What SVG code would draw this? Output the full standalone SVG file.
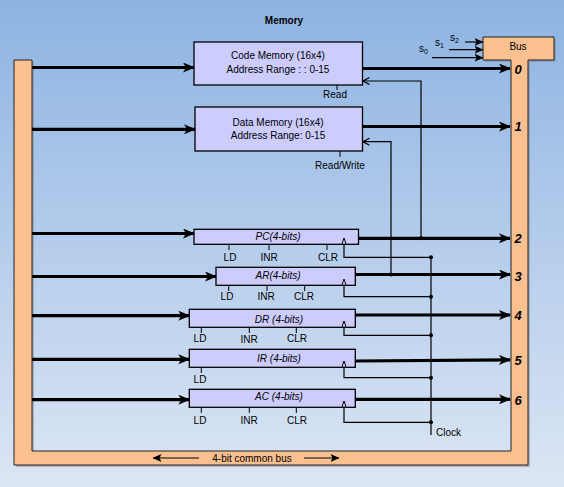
<svg xmlns="http://www.w3.org/2000/svg" width="564" height="487" viewBox="0 0 564 487">
<defs>
<linearGradient id="bg" x1="0" y1="0" x2="0" y2="1">
<stop offset="0" stop-color="#8db3e2"/>
<stop offset="1" stop-color="#dce6f4"/>
</linearGradient>
<marker id="ah" markerUnits="userSpaceOnUse" markerWidth="12" markerHeight="10" refX="11" refY="5" orient="auto">
<path d="M0,0 L12,5 L0,10 L3,5 z" fill="#000"/>
</marker>
<marker id="as" markerUnits="userSpaceOnUse" markerWidth="9" markerHeight="8" refX="8.5" refY="4" orient="auto">
<path d="M0,0 L9,4 L0,8 L2,4 z" fill="#000"/>
</marker>
<marker id="ao" markerUnits="userSpaceOnUse" markerWidth="8" markerHeight="8" refX="7.5" refY="4" orient="auto">
<path d="M1,0.5 L7.5,4 L1,7.5" fill="none" stroke="#000" stroke-width="1.2"/>
</marker>
</defs>
<style>
.box{fill:#ccccff;stroke:#000;stroke-width:1.3}
.t{font-family:"Liberation Sans",Arial,sans-serif;font-size:10px;fill:#000}
.ti{font-family:"Liberation Sans",Arial,sans-serif;font-size:10px;font-style:italic;fill:#000}
.num{font-family:"Liberation Sans",Arial,sans-serif;font-size:13px;font-weight:bold;font-style:italic;fill:#000}
.thick{stroke:#000;stroke-width:3.2;fill:none}
.thin{stroke:#000;stroke-width:1.2;fill:none}
.tick{stroke:#000;stroke-width:1}
.clk{fill:none;stroke:#000;stroke-width:1}
</style>
<rect x="0" y="0" width="564" height="487" fill="url(#bg)"/>

<g id="bus">
<path d="M16,62 L34,62 L34,453 L513,453 L513,62 L485,62 L485,39 L556,39 L556,62 L530,62 L530,467 L16,467 Z" fill="#7f7f7f" opacity="0.45"/>
<path d="M14,60 L32,60 L32,451 L511,451 L511,60 L483,60 L483,37 L554,37 L554,60 L528,60 L528,465 L14,465 Z" fill="#fac090" stroke="#222" stroke-width="1"/>
<text class="t" x="518" y="50" text-anchor="middle" font-size="12">Bus</text>
<text class="num" x="518" y="74" text-anchor="middle">0</text>
<text class="num" x="518" y="131" text-anchor="middle">1</text>
<text class="num" x="518" y="243" text-anchor="middle">2</text>
<text class="num" x="518" y="281" text-anchor="middle">3</text>
<text class="num" x="518" y="320" text-anchor="middle">4</text>
<text class="num" x="518" y="365" text-anchor="middle">5</text>
<text class="num" x="518" y="405" text-anchor="middle">6</text>
<text class="t" x="252" y="462" text-anchor="middle" font-size="12">4-bit common bus</text>
</g>

<text class="t" x="284" y="24" text-anchor="middle" font-weight="bold" font-size="12">Memory</text>

<g id="code-memory">
<rect class="box" x="194" y="42" width="168.5" height="43"/>
<text class="t" x="278" y="59" text-anchor="middle">Code Memory (16x4)</text>
<text class="t" x="278" y="73" text-anchor="middle">Address Range : : 0-15</text>
<line class="tick" x1="337" y1="85" x2="337" y2="90"/>
<text class="t" x="335" y="98" text-anchor="middle">Read</text>
</g>

<g id="data-memory">
<rect class="box" x="195" y="107" width="167.5" height="44"/>
<text class="t" x="278" y="126" text-anchor="middle">Data Memory (16x4)</text>
<text class="t" x="278" y="139" text-anchor="middle">Address Range: 0-15</text>
<line class="tick" x1="340" y1="151" x2="340" y2="157"/>
<text class="t" x="340" y="169" text-anchor="middle">Read/Write</text>
</g>

<g id="pc">
<rect class="box" x="194" y="229.3" width="164.5" height="15"/>
<text class="ti" x="278" y="240" text-anchor="middle" font-size="9">PC(4-bits)</text>
<path class="clk" d="M342,243.8 L344,238 L346,243.8"/>
<line class="tick" x1="229" y1="245" x2="229" y2="250"/>
<line class="tick" x1="269" y1="245" x2="269" y2="250"/>
<line class="tick" x1="327" y1="245" x2="327" y2="250"/>
<text class="t" x="230" y="261" text-anchor="middle" font-size="9.5">LD</text>
<text class="t" x="269" y="261" text-anchor="middle" font-size="9.5">INR</text>
<text class="t" x="328" y="261" text-anchor="middle" font-size="9.5">CLR</text>
</g>

<g id="ar">
<rect class="box" x="216" y="267.3" width="139.3" height="18"/>
<text class="ti" x="278" y="279" text-anchor="middle" font-size="9">AR(4-bits)</text>
<path class="clk" d="M342,284.8 L344,279 L346,284.8"/>
<line class="tick" x1="228.7" y1="286" x2="228.7" y2="291"/>
<line class="tick" x1="267" y1="286" x2="267" y2="291"/>
<line class="tick" x1="304.7" y1="286" x2="304.7" y2="291"/>
<text class="t" x="227" y="300" text-anchor="middle" font-size="9.5">LD</text>
<text class="t" x="266" y="300" text-anchor="middle" font-size="9.5">INR</text>
<text class="t" x="304" y="300" text-anchor="middle" font-size="9.5">CLR</text>
</g>

<g id="dr">
<rect class="box" x="189.3" y="309.3" width="166" height="18"/>
<text class="ti" x="279" y="323" text-anchor="middle" font-size="9">DR (4-bits)</text>
<path class="clk" d="M342,326.8 L344,321 L346,326.8"/>
<line class="tick" x1="201.3" y1="328" x2="201.3" y2="333"/>
<line class="tick" x1="249.3" y1="328" x2="249.3" y2="333"/>
<line class="tick" x1="296.3" y1="328" x2="296.3" y2="333"/>
<text class="t" x="200" y="342" text-anchor="middle" font-size="9.5">LD</text>
<text class="t" x="249" y="343" text-anchor="middle" font-size="9.5">INR</text>
<text class="t" x="297" y="342" text-anchor="middle" font-size="9.5">CLR</text>
</g>

<g id="ir">
<rect class="box" x="189.3" y="349.3" width="166" height="18"/>
<text class="ti" x="279" y="362" text-anchor="middle" font-size="9">IR (4-bits)</text>
<path class="clk" d="M342,366.8 L344,361 L346,366.8"/>
<line class="tick" x1="201.3" y1="368" x2="201.3" y2="373"/>
<text class="t" x="200" y="383" text-anchor="middle" font-size="9.5">LD</text>
</g>

<g id="ac">
<rect class="box" x="189.3" y="389.3" width="166" height="18"/>
<text class="ti" x="279" y="400" text-anchor="middle" font-size="9">AC (4-bits)</text>
<path class="clk" d="M342,406.8 L344,401 L346,406.8"/>
<line class="tick" x1="201.3" y1="408" x2="201.3" y2="413"/>
<line class="tick" x1="249.3" y1="408" x2="249.3" y2="413"/>
<line class="tick" x1="296.3" y1="408" x2="296.3" y2="413"/>
<text class="t" x="200" y="424" text-anchor="middle" font-size="9.5">LD</text>
<text class="t" x="249" y="424" text-anchor="middle" font-size="9.5">INR</text>
<text class="t" x="297" y="424" text-anchor="middle" font-size="9.5">CLR</text>
</g>

<g id="select-lines">
<text class="t" x="419" y="52" font-size="9.5">s<tspan font-size="7" dy="2">0</tspan></text>
<text class="t" x="435" y="46" font-size="9.5">s<tspan font-size="7" dy="2">1</tspan></text>
<text class="t" x="450" y="41" font-size="9.5">s<tspan font-size="7" dy="2">2</tspan></text>
</g>

<g id="clock-label">
<text class="t" x="436" y="436" font-size="11.5">Clock</text>
</g>

<g id="connectors">
<line class="thick" x1="32" y1="67.5" x2="194" y2="67.5" marker-end="url(#ah)"/>
<line class="thick" x1="32" y1="129.3" x2="195" y2="129.3" marker-end="url(#ah)"/>
<line class="thick" x1="32" y1="233.5" x2="194" y2="233.5" marker-end="url(#ah)"/>
<line class="thick" x1="32" y1="276.5" x2="216" y2="276.5" marker-end="url(#ah)"/>
<line class="thick" x1="32" y1="315.7" x2="189.3" y2="315.7" marker-end="url(#ah)"/>
<line class="thick" x1="32" y1="359.3" x2="189.3" y2="359.3" marker-end="url(#ah)"/>
<line class="thick" x1="32" y1="399.7" x2="189.3" y2="399.7" marker-end="url(#ah)"/>
<line class="thick" x1="362.5" y1="68.5" x2="510" y2="68.5" marker-end="url(#ah)"/>
<line class="thick" x1="362.5" y1="126.5" x2="510" y2="126.5" marker-end="url(#ah)"/>
<line class="thick" x1="358.5" y1="238.3" x2="510" y2="238.3" marker-end="url(#ah)"/>
<line class="thick" x1="355.3" y1="274.5" x2="510" y2="274.5" marker-end="url(#ah)"/>
<line class="thick" x1="355.3" y1="315" x2="510" y2="315" marker-end="url(#ah)"/>
<line class="thick" x1="355.3" y1="361" x2="510" y2="359.8" marker-end="url(#ah)"/>
<line class="thick" x1="355.3" y1="399.3" x2="510" y2="399.3" marker-end="url(#ah)"/>
<polyline class="thin" points="421,238.3 421,81 363,81" marker-end="url(#ao)"/>
<circle cx="421" cy="238.3" r="2" fill="#000"/>
<polyline class="thin" points="391,274.5 391,141.7 363,141.7" marker-end="url(#ao)"/>
<circle cx="391" cy="274.5" r="2" fill="#000"/>
<line class="thin" x1="465" y1="42" x2="483" y2="42" marker-end="url(#as)"/>
<line class="thin" x1="449" y1="49.7" x2="483" y2="49.7" marker-end="url(#as)"/>
<line class="thin" x1="432" y1="57.7" x2="483" y2="57.7" marker-end="url(#as)"/>
<line class="thin" x1="431" y1="257.3" x2="431" y2="435"/>
<polyline class="thin" points="344,244 344,257.3 431,257.3"/>
<polyline class="thin" points="344,285 344,296.7 431,296.7"/>
<polyline class="thin" points="344,327 344,335.3 431,335.3"/>
<polyline class="thin" points="344,367 344,377.7 431,377.7"/>
<polyline class="thin" points="344,407 344,422.3 431,422.3"/>
<circle cx="431" cy="257.3" r="2" fill="#000"/>
<circle cx="431" cy="296.7" r="2" fill="#000"/>
<circle cx="431" cy="335.3" r="2" fill="#000"/>
<circle cx="431" cy="377.7" r="2" fill="#000"/>
<circle cx="431" cy="422.3" r="2" fill="#000"/>
<line class="thin" x1="199" y1="458" x2="153" y2="458" marker-end="url(#as)"/>
<line class="thin" x1="304" y1="458" x2="339" y2="458" marker-end="url(#as)"/>
</g>
</svg>
